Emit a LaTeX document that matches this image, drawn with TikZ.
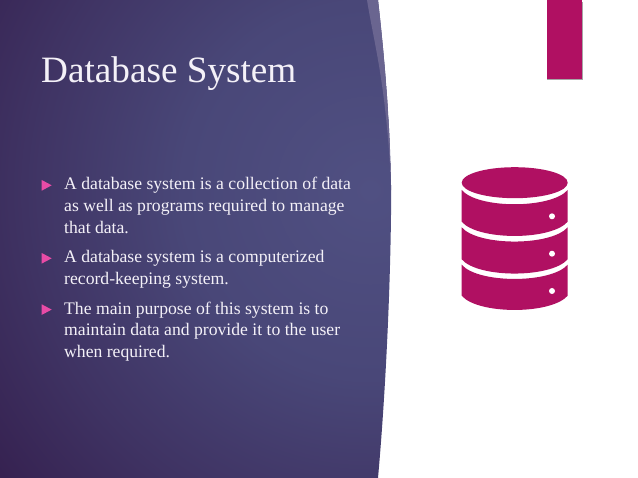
\documentclass[tikz,border=0pt]{standalone}
\usepackage{fontspec}
\setmainfont{Liberation Serif}
\definecolor{bgcen}{HTML}{505082}
\definecolor{bgmid}{HTML}{494778}
\definecolor{bgin}{HTML}{3F3363}
\definecolor{bgout}{HTML}{35204F}
\definecolor{ribbon}{HTML}{6A6590}
\definecolor{mag}{HTML}{B01062}
\definecolor{bul}{HTML}{E84BA6}
\definecolor{txt}{HTML}{F4F1F8}
\pgfdeclareradialshading{bgshade}{\pgfpoint{0bp}{0bp}}{color(0bp)=(bgcen); color(10bp)=(bgmid); color(18.4bp)=(bgin); color(25.5bp)=(bgout); color(50bp)=(bgout)}
\tikzset{
  x=1pt,y=-1pt,
  body/.style={anchor=base west,inner sep=0pt,text=txt,font=\fontsize{17.65}{21.5}\selectfont,align=left},
  title/.style={anchor=base west,inner sep=0pt,text=txt,font=\fontsize{37.2}{44}\selectfont},
  bullet/.style={fill=bul,draw=none},
  disk/.style={fill=mag,draw=none},
  hole/.style={fill=white,draw=none}
}
\begin{document}
\begin{tikzpicture}
\useasboundingbox (0,0) rectangle (638,478);
\fill[white] (0,0) rectangle (638,478);
% panel
\begin{scope}
\clip (0,0) -- (378,0) .. controls (386,70) and (392,150) .. (391,215) .. controls (390,300) and (385,400) .. (378,478) -- (0,478) -- cycle;
\shade[shading=bgshade] (370,190) circle (470);
\fill[ribbon] (367,0) -- (379,0) .. controls (387,70) and (392,150) .. (392,215) .. controls (391,165) and (387,120) .. (382,85) .. controls (377,50) and (371,25) .. (367,0) -- cycle;
\end{scope}
% bar
\fill[black!35] (547,2) rectangle (582.8,80.5);
\fill[mag] (547,0) rectangle (582.3,79.5);
% title
\node[title] (heading) at (41,82.7) {Database System};
% bullets
\fill[bullet] (41.7,180) -- (51.7,185.3) -- (41.7,190.7) -- cycle;
\fill[bullet] (41.7,253) -- (51.7,258.3) -- (41.7,263.6) -- cycle;
\fill[bullet] (41.7,304.3) -- (51.7,309.6) -- (41.7,314.9) -- cycle;
% body
\node[body] (p1a) at (64,190) {A database system is a collection of data};
\node[body] (p1b) at (64,211.6) {as well as programs required to manage};
\node[body] (p1c) at (64,233.2) {that data.};
\node[body] (p2a) at (64,263) {A database system is a computerized};
\node[body] (p2b) at (64,284.6) {record-keeping system.};
\node[body] (p3a) at (64,314.3) {The main purpose of this system is to};
\node[body] (p3b) at (64,335.9) {maintain data and provide it to the user};
\node[body] (p3c) at (64,357.5) {when required.};
% icon
\fill[disk] (514.7,182.7) ellipse [x radius=53,y radius=15.5];
\foreach \t/\b in {190/221.7,227.3/259.3,264.7/295.7}{
  \fill[disk] (461.7,\t) .. controls (478,\t+19) and (551,\t+19) .. (567.7,\t) -- (567.7,\b)
     .. controls (551,\b+19) and (478,\b+19) .. (461.7,\b) -- cycle;
}
\fill[hole] (552,216.3) circle (3);
\fill[hole] (552,253.7) circle (3);
\fill[hole] (552,291) circle (3);
\end{tikzpicture}
\end{document}
